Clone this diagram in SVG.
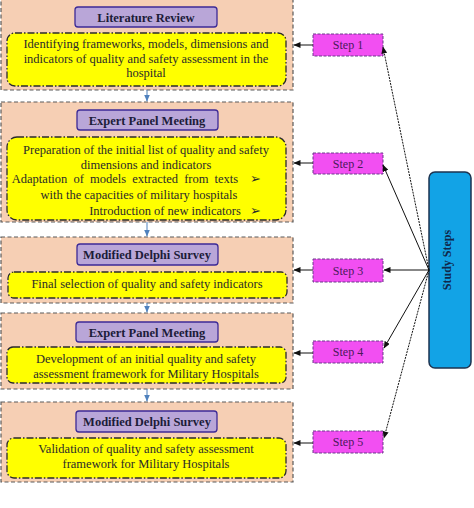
<svg xmlns="http://www.w3.org/2000/svg" width="474" height="508" viewBox="0 0 474 508">
<defs>
<marker id="ah" markerWidth="7" markerHeight="6" refX="6.5" refY="3" orient="auto" markerUnits="userSpaceOnUse"><path d="M0,0 L7,3 L0,6 Z" fill="#111"/></marker>
<marker id="bh" markerWidth="7" markerHeight="6" refX="6.5" refY="3" orient="auto" markerUnits="userSpaceOnUse"><path d="M0,0 L7,3 L0,6 Z" fill="#4f81bd"/></marker>
<style>
.panel{fill:#f6cfb4;stroke:#5a5a5a;stroke-width:1.2;stroke-dasharray:4 2.5}
.title{fill:#b9a6d8;stroke:#3c2a96;stroke-width:1.3}
.yel{fill:#ffff00;stroke:#2b2b2b;stroke-width:1.3;stroke-dasharray:7 2 1.5 2}
.tt{font-family:"Liberation Serif",serif;font-weight:bold;font-size:12.5px;fill:#1c1c38;text-anchor:middle}
.bt{font-family:"Liberation Serif",serif;font-size:12.5px;fill:#2a2a2a;text-anchor:middle}
.step{fill:#f24ff2;stroke:#6b3a8a;stroke-width:1;stroke-dasharray:3 1.5}
.st{font-family:"Liberation Serif",serif;font-size:12px;fill:#4a1a5a;text-anchor:middle}
.ln{stroke:#111;stroke-width:1;fill:none;marker-end:url(#ah)}
.dl{stroke:#111;stroke-width:1;fill:none;stroke-dasharray:2 1;marker-end:url(#ah)}
.bl{stroke:#4f81bd;stroke-width:1;fill:none;marker-end:url(#bh)}
</style>
</defs>
<rect width="474" height="508" fill="#ffffff"/>
<g id="panel1">
<rect class="panel" x="1" y="-2" width="292" height="92"/>
<rect class="title" x="75" y="7" width="142" height="20" rx="3"/>
<text class="tt" x="146" y="21.5">Literature Review</text>
<rect class="yel" x="7" y="33" width="279" height="53" rx="8"/>
<text class="bt" x="146" y="48">Identifying frameworks, models, dimensions and</text>
<text class="bt" x="146" y="63">indicators of quality and safety assessment in the</text>
<text class="bt" x="146" y="77">hospital</text>
</g>
<g id="panel2">
<rect class="panel" x="1" y="102" width="292" height="120"/>
<rect class="title" x="77" y="110" width="141" height="20" rx="3"/>
<text class="tt" x="147" y="124.5">Expert Panel Meeting</text>
<rect class="yel" x="7" y="137" width="279" height="83" rx="10"/>
<text class="bt" x="146" y="154">Preparation of the initial list of quality and safety</text>
<text class="bt" x="146" y="169">dimensions and indicators</text>
<text class="bt" x="125" y="183" style="word-spacing:3px">Adaptation of models extracted from texts</text>
<text class="bt" x="255" y="183" font-family="DejaVu Sans" font-size="9">➢</text>
<text class="bt" x="139" y="199">with the capacities of military hospitals</text>
<text class="bt" x="165" y="215">Introduction of new indicators</text>
<text class="bt" x="255" y="215" font-family="DejaVu Sans" font-size="9">➢</text>
</g>
<g id="panel3">
<rect class="panel" x="1" y="237" width="292" height="66"/>
<rect class="title" x="77" y="244" width="141" height="21" rx="3"/>
<text class="tt" x="147" y="259">Modified Delphi Survey</text>
<rect class="yel" x="8" y="272" width="279" height="26" rx="6"/>
<text class="bt" x="147" y="288">Final selection of quality and safety indicators</text>
</g>
<g id="panel4">
<rect class="panel" x="1" y="313" width="292" height="76"/>
<rect class="title" x="76" y="322" width="142" height="20" rx="3"/>
<text class="tt" x="147" y="336.5">Expert Panel Meeting</text>
<rect class="yel" x="7" y="347" width="279" height="36" rx="6"/>
<text class="bt" x="146" y="363">Development of an initial quality and safety</text>
<text class="bt" x="146" y="378">assessment framework for Military Hospitals</text>
</g>
<g id="panel5">
<rect class="panel" x="1" y="402" width="292" height="80"/>
<rect class="title" x="76" y="411" width="141" height="21" rx="3"/>
<text class="tt" x="147" y="426">Modified Delphi Survey</text>
<rect class="yel" x="7" y="438" width="279" height="40" rx="7"/>
<text class="bt" x="146" y="453">Validation of quality and safety assessment</text>
<text class="bt" x="146" y="468">framework for Military Hospitals</text>
</g>
<g id="steps">
<g id="step1"><rect class="step" x="313" y="34" width="70" height="22"/><text class="st" x="348" y="49">Step 1</text></g>
<g id="step2"><rect class="step" x="313" y="153" width="70" height="21"/><text class="st" x="348" y="167.5">Step 2</text></g>
<g id="step3"><rect class="step" x="313" y="259" width="70" height="23"/><text class="st" x="348" y="274.5">Step 3</text></g>
<g id="step4"><rect class="step" x="313" y="341" width="70" height="22"/><text class="st" x="348" y="356">Step 4</text></g>
<g id="step5"><rect class="step" x="313" y="431" width="70" height="22"/><text class="st" x="348" y="446">Step 5</text></g>
</g>
<g id="study-steps">
<rect x="429" y="172" width="42" height="196" rx="6" fill="#12a3e6" stroke="#1d3350" stroke-width="1.5"/>
<text transform="translate(451,260) rotate(-90)" x="0" y="0" font-family="'Liberation Serif',serif" font-weight="bold" font-size="12px" fill="#10284a" text-anchor="middle">Study Steps</text>
</g>
<g id="connectors">
<line class="bl" x1="147" y1="90" x2="147" y2="101"/>
<line class="bl" x1="147" y1="222" x2="147" y2="236"/>
<line class="bl" x1="147" y1="303" x2="147" y2="312"/>
<line class="bl" x1="147" y1="389" x2="147" y2="401"/>
<line class="ln" x1="313" y1="45" x2="294" y2="45"/>
<line class="ln" x1="313" y1="163" x2="294" y2="163"/>
<line class="ln" x1="313" y1="270" x2="294" y2="270"/>
<line class="ln" x1="313" y1="353" x2="294" y2="353"/>
<line class="ln" x1="313" y1="443" x2="294" y2="443"/>
<line class="dl" x1="429" y1="270" x2="383" y2="47"/>
<line class="ln" x1="429" y1="270" x2="383" y2="165"/>
<line class="ln" x1="429" y1="270" x2="384" y2="270"/>
<line class="ln" x1="429" y1="270" x2="384" y2="348"/>
<line class="dl" x1="429" y1="270" x2="384" y2="438"/>
</g>
</svg>
